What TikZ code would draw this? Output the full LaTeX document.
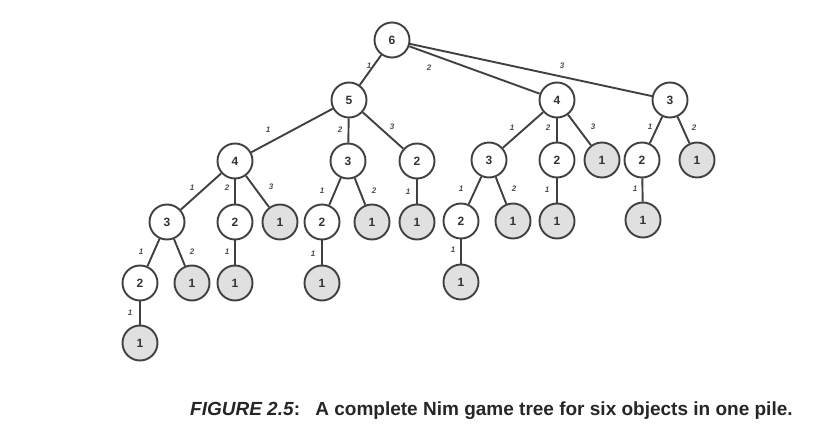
\documentclass[tikz,border=0pt]{standalone}
\usepackage{fontspec}
\setmainfont{Liberation Sans}
\begin{document}
\begin{tikzpicture}[x=1pt,y=-1pt,
 n/.style={circle,draw=black!75,line width=1.9pt,minimum size=35pt,inner sep=0pt,fill=white,font=\bfseries\fontsize{12}{12}\selectfont,text=black!80},
 g/.style={n,fill=black!12},
 e/.style={line width=1.9pt,draw=black!75},
 lb/.style={font=\bfseries\itshape\fontsize{8}{8}\selectfont,text=black!70,inner sep=1pt}]
\useasboundingbox (0,0) rectangle (838,441);
\node[n] (a) at (392,40) {6};
\node[n] (b) at (349,100) {5};
\node[n] (c) at (557,100) {4};
\node[n] (d) at (670,100) {3};
\node[n] (b1) at (235,161) {4};
\node[n] (b2) at (348,161) {3};
\node[n] (b3) at (417,161) {2};
\node[n] (c1) at (489,160) {3};
\node[n] (c2) at (557,160) {2};
\node[g] (c3) at (602,160) {1};
\node[n] (d1) at (642,160) {2};
\node[g] (d2) at (697,160) {1};
\node[n] (b11) at (167,222) {3};
\node[n] (b12) at (235,222) {2};
\node[g] (b13) at (280,222) {1};
\node[n] (b21) at (322,222) {2};
\node[g] (b22) at (372,222) {1};
\node[g] (b31) at (417,222) {1};
\node[n] (c11) at (461,221) {2};
\node[g] (c12) at (513,221) {1};
\node[g] (c21) at (557,221) {1};
\node[g] (d11) at (643,220) {1};
\node[n] (b111) at (140,283) {2};
\node[g] (b112) at (192,283) {1};
\node[g] (b121) at (235,283) {1};
\node[g] (b211) at (322,283) {1};
\node[g] (c111) at (461,282) {1};
\node[g] (b1111) at (140,343) {1};
\foreach \p/\q in {a/b,a/c,a/d,b/b1,b/b2,b/b3,c/c1,c/c2,c/c3,d/d1,d/d2,b1/b11,b1/b12,b1/b13,b2/b21,b2/b22,b3/b31,c1/c11,c1/c12,c2/c21,d1/d11,b11/b111,b11/b112,b12/b121,b21/b211,c11/c111,b111/b1111}
  \draw[e] (\p) -- (\q);
\node[lb] (l1) at (369,66) {1};
\node[lb] (l2) at (429,68) {2};
\node[lb] (l3) at (562,66) {3};
\node[lb] (l4) at (268,130) {1};
\node[lb] (l5) at (340,130) {2};
\node[lb] (l6) at (392,127) {3};
\node[lb] (l7) at (512,128) {1};
\node[lb] (l8) at (548,128) {2};
\node[lb] (l9) at (593,127) {3};
\node[lb] (l10) at (650,127) {1};
\node[lb] (l11) at (694,128) {2};
\node[lb] (l12) at (192,188) {1};
\node[lb] (l13) at (227,188) {2};
\node[lb] (l14) at (271,187) {3};
\node[lb] (l15) at (322,191) {1};
\node[lb] (l16) at (374,191) {2};
\node[lb] (l17) at (408,192) {1};
\node[lb] (l18) at (461,189) {1};
\node[lb] (l19) at (514,189) {2};
\node[lb] (l20) at (547,190) {1};
\node[lb] (l21) at (635,189) {1};
\node[lb] (l22) at (141,252) {1};
\node[lb] (l23) at (192,252) {2};
\node[lb] (l24) at (227,252) {1};
\node[lb] (l25) at (313,254) {1};
\node[lb] (l26) at (453,250) {1};
\node[lb] (l27) at (130,313) {1};
\node[anchor=west,inner sep=0pt,font=\bfseries\fontsize{19}{21}\selectfont,text=black!85] (cap) at (190,411)
 {\textit{FIGURE 2.5}:\hspace{0.8em}A complete Nim game tree for six objects in one pile.};
\end{tikzpicture}
\end{document}
